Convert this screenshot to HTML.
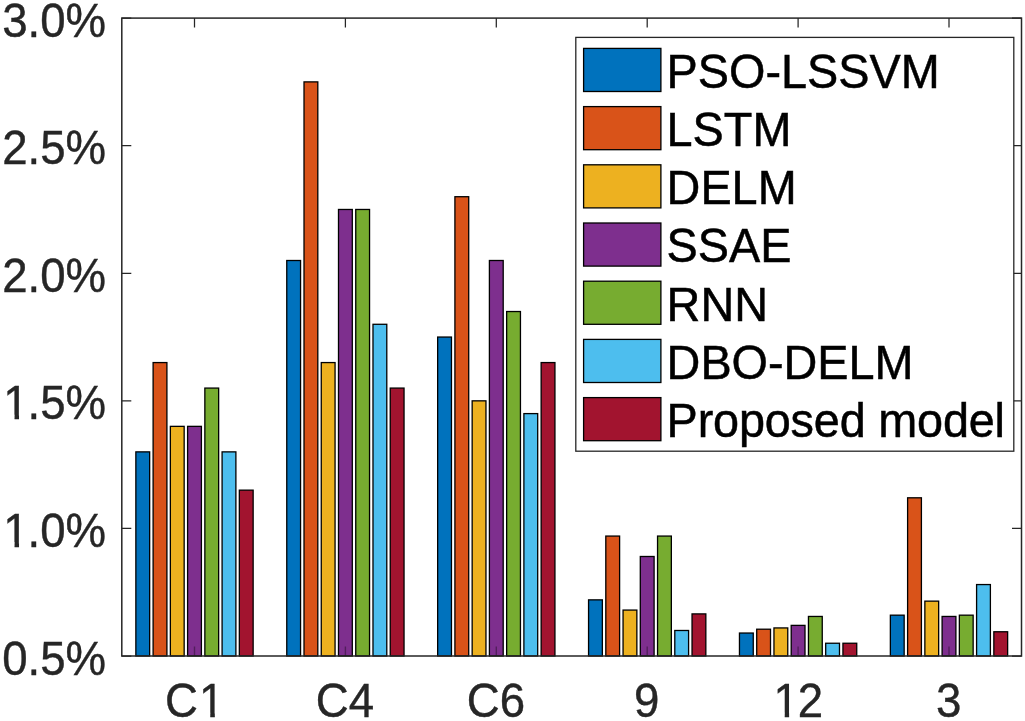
<!DOCTYPE html>
<html><head><meta charset="utf-8"><title>chart</title>
<style>html,body{margin:0;padding:0;background:#fff}svg{display:block}</style></head>
<body>
<svg width="1025" height="721" viewBox="0 0 1025 721" font-family="'Liberation Sans', Arial, Helvetica, sans-serif">
<rect width="1025" height="721" fill="#fff"/>
<defs><clipPath id="c0"><polygon points="3.43,-33.40 16.96,-33.40 16.96,1.34 12.40,1.34 12.40,-4.45 3.43,-4.45"/></clipPath><clipPath id="c1"><polygon points="3.43,-33.40 16.96,-33.40 16.96,1.34 12.40,1.34 12.40,-4.45 3.43,-4.45"/></clipPath><clipPath id="c2"><polygon points="36.36,-33.40 49.89,-33.40 49.89,1.34 45.33,1.34 45.33,-4.45 36.36,-4.45"/></clipPath><clipPath id="c3"><polygon points="3.43,-33.40 16.96,-33.40 16.96,1.34 12.40,1.34 12.40,-4.45 3.43,-4.45"/></clipPath></defs>
<path d="M194.50 656.0 v-9.5 M194.50 18.1 v9.5 M345.40 656.0 v-9.5 M345.40 18.1 v9.5 M496.30 656.0 v-9.5 M496.30 18.1 v9.5 M647.20 656.0 v-9.5 M647.20 18.1 v9.5 M798.10 656.0 v-9.5 M798.10 18.1 v9.5 M949.00 656.0 v-9.5 M949.00 18.1 v9.5 M121.8 656.00 h9.5 M1021.5 656.00 h-9.5 M121.8 528.42 h9.5 M1021.5 528.42 h-9.5 M121.8 400.84 h9.5 M1021.5 400.84 h-9.5 M121.8 273.26 h9.5 M1021.5 273.26 h-9.5 M121.8 145.68 h9.5 M1021.5 145.68 h-9.5 M121.8 18.10 h9.5 M1021.5 18.10 h-9.5" stroke="#262626" stroke-width="1.25" fill="none"/>
<rect x="135.86" y="451.87" width="13.80" height="204.13" fill="#0072BD" stroke="#000" stroke-width="1.3"/>
<rect x="153.11" y="362.57" width="13.80" height="293.43" fill="#D95319" stroke="#000" stroke-width="1.3"/>
<rect x="170.36" y="426.36" width="13.80" height="229.64" fill="#EDB120" stroke="#000" stroke-width="1.3"/>
<rect x="187.60" y="426.36" width="13.80" height="229.64" fill="#7E2F8E" stroke="#000" stroke-width="1.3"/>
<rect x="204.85" y="388.08" width="13.80" height="267.92" fill="#77AC30" stroke="#000" stroke-width="1.3"/>
<rect x="222.09" y="451.87" width="13.80" height="204.13" fill="#4DBEEE" stroke="#000" stroke-width="1.3"/>
<rect x="239.34" y="490.15" width="13.80" height="165.85" fill="#A2142F" stroke="#000" stroke-width="1.3"/>
<rect x="286.76" y="260.50" width="13.80" height="395.50" fill="#0072BD" stroke="#000" stroke-width="1.3"/>
<rect x="304.01" y="81.89" width="13.80" height="574.11" fill="#D95319" stroke="#000" stroke-width="1.3"/>
<rect x="321.26" y="362.57" width="13.80" height="293.43" fill="#EDB120" stroke="#000" stroke-width="1.3"/>
<rect x="338.50" y="209.47" width="13.80" height="446.53" fill="#7E2F8E" stroke="#000" stroke-width="1.3"/>
<rect x="355.75" y="209.47" width="13.80" height="446.53" fill="#77AC30" stroke="#000" stroke-width="1.3"/>
<rect x="372.99" y="324.29" width="13.80" height="331.71" fill="#4DBEEE" stroke="#000" stroke-width="1.3"/>
<rect x="390.24" y="388.08" width="13.80" height="267.92" fill="#A2142F" stroke="#000" stroke-width="1.3"/>
<rect x="437.66" y="337.05" width="13.80" height="318.95" fill="#0072BD" stroke="#000" stroke-width="1.3"/>
<rect x="454.91" y="196.71" width="13.80" height="459.29" fill="#D95319" stroke="#000" stroke-width="1.3"/>
<rect x="472.16" y="400.84" width="13.80" height="255.16" fill="#EDB120" stroke="#000" stroke-width="1.3"/>
<rect x="489.40" y="260.50" width="13.80" height="395.50" fill="#7E2F8E" stroke="#000" stroke-width="1.3"/>
<rect x="506.65" y="311.53" width="13.80" height="344.47" fill="#77AC30" stroke="#000" stroke-width="1.3"/>
<rect x="523.89" y="413.60" width="13.80" height="242.40" fill="#4DBEEE" stroke="#000" stroke-width="1.3"/>
<rect x="541.14" y="362.57" width="13.80" height="293.43" fill="#A2142F" stroke="#000" stroke-width="1.3"/>
<rect x="588.56" y="599.86" width="13.80" height="56.14" fill="#0072BD" stroke="#000" stroke-width="1.3"/>
<rect x="605.81" y="536.07" width="13.80" height="119.93" fill="#D95319" stroke="#000" stroke-width="1.3"/>
<rect x="623.06" y="610.07" width="13.80" height="45.93" fill="#EDB120" stroke="#000" stroke-width="1.3"/>
<rect x="640.30" y="556.49" width="13.80" height="99.51" fill="#7E2F8E" stroke="#000" stroke-width="1.3"/>
<rect x="657.55" y="536.07" width="13.80" height="119.93" fill="#77AC30" stroke="#000" stroke-width="1.3"/>
<rect x="674.79" y="630.48" width="13.80" height="25.52" fill="#4DBEEE" stroke="#000" stroke-width="1.3"/>
<rect x="692.04" y="613.90" width="13.80" height="42.10" fill="#A2142F" stroke="#000" stroke-width="1.3"/>
<rect x="739.46" y="633.04" width="13.80" height="22.96" fill="#0072BD" stroke="#000" stroke-width="1.3"/>
<rect x="756.71" y="629.21" width="13.80" height="26.79" fill="#D95319" stroke="#000" stroke-width="1.3"/>
<rect x="773.96" y="627.93" width="13.80" height="28.07" fill="#EDB120" stroke="#000" stroke-width="1.3"/>
<rect x="791.20" y="625.38" width="13.80" height="30.62" fill="#7E2F8E" stroke="#000" stroke-width="1.3"/>
<rect x="808.45" y="616.45" width="13.80" height="39.55" fill="#77AC30" stroke="#000" stroke-width="1.3"/>
<rect x="825.69" y="643.24" width="13.80" height="12.76" fill="#4DBEEE" stroke="#000" stroke-width="1.3"/>
<rect x="842.94" y="643.24" width="13.80" height="12.76" fill="#A2142F" stroke="#000" stroke-width="1.3"/>
<rect x="890.36" y="615.17" width="13.80" height="40.83" fill="#0072BD" stroke="#000" stroke-width="1.3"/>
<rect x="907.61" y="497.80" width="13.80" height="158.20" fill="#D95319" stroke="#000" stroke-width="1.3"/>
<rect x="924.86" y="601.14" width="13.80" height="54.86" fill="#EDB120" stroke="#000" stroke-width="1.3"/>
<rect x="942.10" y="616.45" width="13.80" height="39.55" fill="#7E2F8E" stroke="#000" stroke-width="1.3"/>
<rect x="959.35" y="615.17" width="13.80" height="40.83" fill="#77AC30" stroke="#000" stroke-width="1.3"/>
<rect x="976.59" y="584.56" width="13.80" height="71.44" fill="#4DBEEE" stroke="#000" stroke-width="1.3"/>
<rect x="993.84" y="631.76" width="13.80" height="24.24" fill="#A2142F" stroke="#000" stroke-width="1.3"/>
<path d="M194.50 656.0 v-9.5 M345.40 656.0 v-9.5 M496.30 656.0 v-9.5 M647.20 656.0 v-9.5 M798.10 656.0 v-9.5 M949.00 656.0 v-9.5" stroke="#000" stroke-opacity="0.35" stroke-width="1.4" fill="none"/>
<rect x="121.8" y="18.1" width="899.7" height="637.9" fill="none" stroke="#262626" stroke-width="1.5"/>
<g transform="translate(2.16 674.50) scale(1 1.045)" font-size="45.6" fill="#262626" stroke="#262626" stroke-width="0.4"><text x="0.00" y="0">0.5%</text></g>
<g transform="translate(2.16 546.92) scale(1 1.045)" font-size="45.6" fill="#262626" stroke="#262626" stroke-width="0.4"><text x="1.20" y="0" clip-path="url(#c0)">1</text><text x="25.36" y="0">.0%</text></g>
<g transform="translate(2.16 419.34) scale(1 1.045)" font-size="45.6" fill="#262626" stroke="#262626" stroke-width="0.4"><text x="1.20" y="0" clip-path="url(#c1)">1</text><text x="25.36" y="0">.5%</text></g>
<g transform="translate(2.16 291.76) scale(1 1.045)" font-size="45.6" fill="#262626" stroke="#262626" stroke-width="0.4"><text x="0.00" y="0">2.0%</text></g>
<g transform="translate(2.16 164.18) scale(1 1.045)" font-size="45.6" fill="#262626" stroke="#262626" stroke-width="0.4"><text x="0.00" y="0">2.5%</text></g>
<g transform="translate(2.16 36.60) scale(1 1.045)" font-size="45.6" fill="#262626" stroke="#262626" stroke-width="0.4"><text x="0.00" y="0">3.0%</text></g>
<g transform="translate(164.95 717.40) scale(1 1.06)" font-size="45.6" fill="#262626" stroke="#262626" stroke-width="0.4"><text x="0.00" y="0">C</text><text x="34.13" y="0" clip-path="url(#c2)">1</text></g>
<g transform="translate(315.85 717.40) scale(1 1.06)" font-size="45.6" fill="#262626" stroke="#262626" stroke-width="0.4"><text x="0.00" y="0">C4</text></g>
<g transform="translate(466.75 717.40) scale(1 1.06)" font-size="45.6" fill="#262626" stroke="#262626" stroke-width="0.4"><text x="0.00" y="0">C6</text></g>
<g transform="translate(634.12 717.40) scale(1 1.06)" font-size="45.6" fill="#262626" stroke="#262626" stroke-width="0.4"><text x="0.00" y="0">9</text></g>
<g transform="translate(772.34 717.40) scale(1 1.06)" font-size="45.6" fill="#262626" stroke="#262626" stroke-width="0.4"><text x="1.20" y="0" clip-path="url(#c3)">1</text><text x="25.36" y="0">2</text></g>
<g transform="translate(935.92 717.40) scale(1 1.06)" font-size="45.6" fill="#262626" stroke="#262626" stroke-width="0.4"><text x="0.00" y="0">3</text></g>
<rect x="575.8" y="37.4" width="438.0" height="413.8" fill="#fff" stroke="#262626" stroke-width="1.3"/>
<rect x="583.6" y="48.40" width="77.3" height="43.1" fill="#0072BD" stroke="#000" stroke-width="1.3"/>
<text transform="translate(666.6 87.70) scale(1 1.03)" font-size="46.8" fill="#000" stroke="#000" stroke-width="0.5">PSO-LSSVM</text>
<rect x="583.6" y="106.60" width="77.3" height="43.1" fill="#D95319" stroke="#000" stroke-width="1.3"/>
<text transform="translate(666.6 145.90) scale(1 1.03)" font-size="46.8" fill="#000" stroke="#000" stroke-width="0.5">LSTM</text>
<rect x="583.6" y="164.80" width="77.3" height="43.1" fill="#EDB120" stroke="#000" stroke-width="1.3"/>
<text transform="translate(666.6 204.10) scale(1 1.03)" font-size="46.8" fill="#000" stroke="#000" stroke-width="0.5">DELM</text>
<rect x="583.6" y="223.00" width="77.3" height="43.1" fill="#7E2F8E" stroke="#000" stroke-width="1.3"/>
<text transform="translate(666.6 262.30) scale(1 1.03)" font-size="46.8" fill="#000" stroke="#000" stroke-width="0.5">SSAE</text>
<rect x="583.6" y="281.20" width="77.3" height="43.1" fill="#77AC30" stroke="#000" stroke-width="1.3"/>
<text transform="translate(666.6 320.50) scale(1 1.03)" font-size="46.8" fill="#000" stroke="#000" stroke-width="0.5">RNN</text>
<rect x="583.6" y="339.40" width="77.3" height="43.1" fill="#4DBEEE" stroke="#000" stroke-width="1.3"/>
<text transform="translate(666.6 378.70) scale(1 1.03)" font-size="46.8" fill="#000" stroke="#000" stroke-width="0.5">DBO-DELM</text>
<rect x="583.6" y="397.60" width="77.3" height="43.1" fill="#A2142F" stroke="#000" stroke-width="1.3"/>
<text transform="translate(666.6 436.90) scale(1 1.03)" font-size="46.8" fill="#000" stroke="#000" stroke-width="0.5" letter-spacing="-0.18">Proposed model</text>
</svg>
</body></html>
